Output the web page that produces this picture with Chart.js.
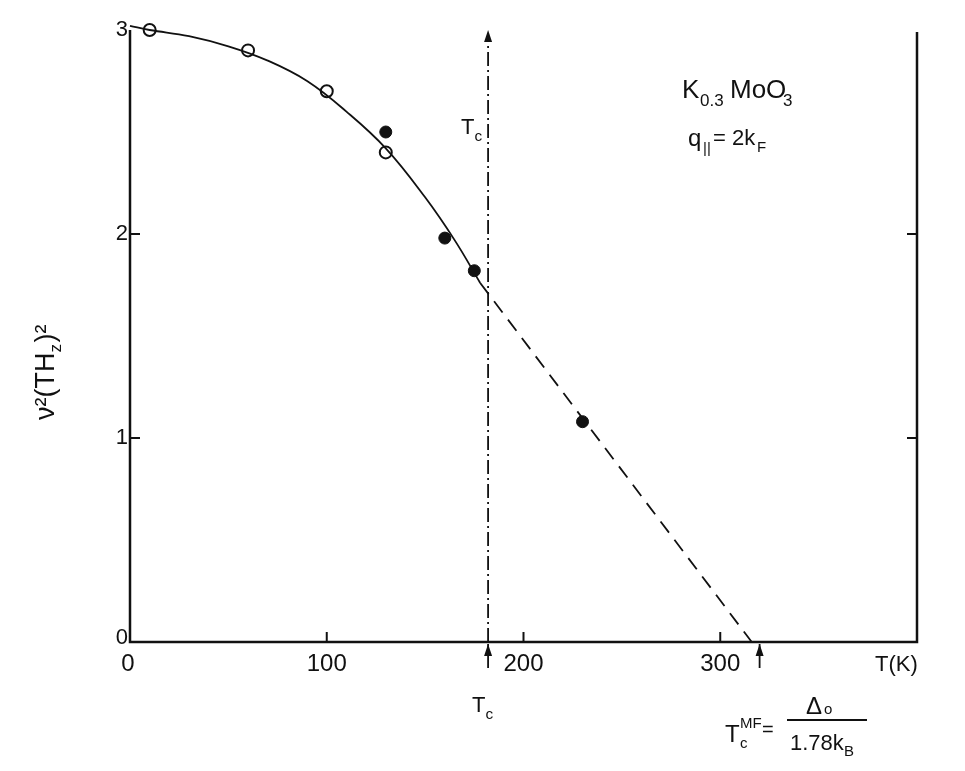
<!DOCTYPE html><html><head><meta charset="utf-8">
<script src="https://cdn.jsdelivr.net/npm/chart.js@4/dist/chart.umd.min.js"></script>
<style>html,body{margin:0;background:#fff}#w{width:965px;height:771px}</style></head><body><div id="w"><canvas id="c"></canvas></div>
<script>
const openT=[10,60,100,130], openV=[3.0,2.9,2.7,2.4];
const fillT=[130,160,175,230], fillV=[2.5,1.98,1.82,1.08];
const curveT=[0,10,30,50,70,90,110,130,150,165,178], curveV=[3.02,3.0,2.97,2.92,2.85,2.75,2.6,2.42,2.18,1.97,1.76];
const dashT=[178,316], dashV=[1.76,0];
const xTicks=[0,100,200,300], yTicks=[0,1,2,3];
const Tc=182, TcMF=320;
const pts=(a,b)=>a.map((x,i)=>({x,y:b[i]}));
const F='"Liberation Sans", Arial, sans-serif';
const deco={id:'deco',afterDraw(ch){
 const c=ch.ctx,x=ch.scales.x,y=ch.scales.y,L=x.getPixelForValue(0),R=x.getPixelForValue(400),B=y.getPixelForValue(0),T=y.getPixelForValue(3);
 c.save();c.strokeStyle='#111';c.fillStyle='#111';c.lineWidth=2.5;
 c.beginPath();c.moveTo(L,T);c.lineTo(L,B);c.lineTo(R,B);c.lineTo(R,T+2);c.stroke();
 c.lineWidth=2;
 xTicks.slice(1).forEach(v=>{const p=x.getPixelForValue(v);c.beginPath();c.moveTo(p,B);c.lineTo(p,B-10);c.stroke();});
 yTicks.slice(1,3).forEach(v=>{const p=y.getPixelForValue(v);c.beginPath();c.moveTo(L,p);c.lineTo(L+10,p);c.moveTo(R,p);c.lineTo(R-10,p);c.stroke();});
 c.font='24px '+F;c.textAlign='center';c.textBaseline='top';
 xTicks.forEach(v=>c.fillText(String(v),x.getPixelForValue(v)+(v==0?-2:0),B+10));
 c.textAlign='right';c.textBaseline='middle';c.font='22px '+F;
 yTicks.forEach(v=>c.fillText(String(v),L-2,y.getPixelForValue(v)+(v==0?-4:0)));
 c.font='22px '+F;c.textAlign='left';c.textBaseline='top';c.fillText('T(K)',R-42,B+12);
 const tp=x.getPixelForValue(Tc);c.lineWidth=1.8;c.setLineDash([14,4,2,4]);
 c.beginPath();c.moveTo(tp,B);c.lineTo(tp,T+4);c.stroke();c.setLineDash([]);
 const arrow=(px,py)=>{c.beginPath();c.moveTo(px,py);c.lineTo(px-4,py+12);c.lineTo(px+4,py+12);c.closePath();c.fill();};
 arrow(tp,T);arrow(tp,B+2);c.beginPath();c.moveTo(tp,B+2);c.lineTo(tp,B+26);c.stroke();
 const mp=x.getPixelForValue(TcMF);arrow(mp,B+2);c.beginPath();c.moveTo(mp,B+2);c.lineTo(mp,B+26);c.stroke();
 const sub=(t,s,px,py,fs)=>{c.font=fs+'px '+F;c.textAlign='left';c.textBaseline='alphabetic';c.fillText(t,px,py);const w=c.measureText(t).width;c.font=(fs*0.7)+'px '+F;c.fillText(s,px+w,py+fs*0.3);};
 sub('T','c',tp-27,134,22);sub('T','c',tp-16,B+70,22);
 c.textBaseline='alphabetic';
 c.font='24px '+F;c.fillText('T',725,B+100);c.font='15px '+F;c.fillText('c',740,B+106);c.fillText('MF',740,B+86);
 c.font='20px '+F;c.fillText('=',762,B+94);
 c.beginPath();c.moveTo(787,B+78);c.lineTo(867,B+78);c.lineWidth=2;c.stroke();
 c.font='24px '+F;c.fillText('Δ',806,B+72);c.font='15px '+F;c.fillText('o',824,B+72);
 c.font='22px '+F;c.fillText('1.78k',790,B+108);c.font='15px '+F;c.fillText('B',844,B+114);
 c.font='26px '+F;c.fillText('K',682,98);c.font='17px '+F;c.fillText('0.3',700,106);c.font='26px '+F;c.fillText('MoO',730,98);c.font='17px '+F;c.fillText('3',783,106);
 c.font='24px '+F;c.fillText('q',688,146);c.font='15px '+F;c.fillText('||',703,153);c.font='22px '+F;c.fillText('= 2k',713,145);c.font='15px '+F;c.fillText('F',757,152);
 c.translate(54,420);c.rotate(-Math.PI/2);c.textAlign='left';c.font='27px '+F;
 c.fillText('ν²(TH',0,0);let w=c.measureText('ν²(TH').width;c.font='17px '+F;c.fillText('z',w,7);w+=10;c.font='27px '+F;c.fillText(')²',w,0);
 c.restore();}};
new Chart(document.getElementById('c'),{type:'scatter',data:{datasets:[
 {data:pts(curveT,curveV),showLine:true,borderColor:'#111',borderWidth:1.8,pointRadius:0,tension:0.4,clip:false},
 {data:pts(dashT,dashV),showLine:true,borderColor:'#111',borderWidth:1.8,borderDash:[14,9],pointRadius:0,clip:false},
 {data:pts(openT,openV),pointRadius:6,pointBackgroundColor:'#fff',pointBorderColor:'#111',pointBorderWidth:2,clip:false},
 {data:pts(fillT,fillV),pointRadius:6,pointBackgroundColor:'#111',pointBorderColor:'#111',clip:false}]},
 options:{responsive:true,maintainAspectRatio:false,animation:false,layout:{padding:{left:130,right:48,top:30,bottom:129}},
 plugins:{legend:{display:false},tooltip:{enabled:false}},
 scales:{x:{type:'linear',min:0,max:400,display:false},y:{min:0,max:3,display:false}}},plugins:[deco]});
</script></body></html>
